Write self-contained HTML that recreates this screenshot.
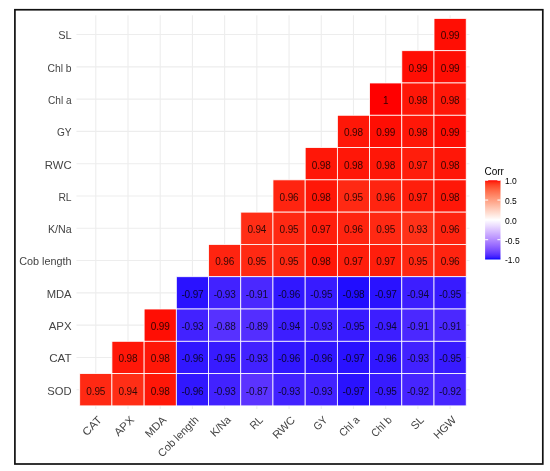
<!DOCTYPE html>
<html><head><meta charset="utf-8"><style>
html,body{margin:0;padding:0;background:#fff;width:550px;height:471px;overflow:hidden}
svg{display:block}
svg text{font-family:"Liberation Sans",sans-serif}
</style></head><body>
<svg width="550" height="471" viewBox="0 0 550 471">
<rect x="0" y="0" width="550" height="471" fill="#fff"/>
<path d="M95.81 15.17V409.11M76.48 34.55H469.44M128.01 15.17V409.11M76.48 66.84H469.44M160.23 15.17V409.11M76.48 99.12H469.44M192.44 15.17V409.11M76.48 131.41H469.44M224.64 15.17V409.11M76.48 163.71H469.44M256.86 15.17V409.11M76.48 196.00H469.44M289.06 15.17V409.11M76.48 228.28H469.44M321.28 15.17V409.11M76.48 260.57H469.44M353.49 15.17V409.11M76.48 292.86H469.44M385.69 15.17V409.11M76.48 325.15H469.44M417.90 15.17V409.11M76.48 357.44H469.44M450.12 15.17V409.11M76.48 389.73H469.44" stroke="#EDEDED" stroke-width="1.1" fill="none"/>
<g stroke="#FFFFFF" stroke-width="0.8"><rect x="434.01" y="18.40" width="32.21" height="32.29" fill="#FF0E04"/><rect x="401.80" y="50.69" width="32.21" height="32.29" fill="#FF0E04"/><rect x="434.01" y="50.69" width="32.21" height="32.29" fill="#FF0E04"/><rect x="369.59" y="82.98" width="32.21" height="32.29" fill="#FF0000"/><rect x="401.80" y="82.98" width="32.21" height="32.29" fill="#FF1708"/><rect x="434.01" y="82.98" width="32.21" height="32.29" fill="#FF1708"/><rect x="337.38" y="115.27" width="32.21" height="32.29" fill="#FF1708"/><rect x="369.59" y="115.27" width="32.21" height="32.29" fill="#FF0E04"/><rect x="401.80" y="115.27" width="32.21" height="32.29" fill="#FF1708"/><rect x="434.01" y="115.27" width="32.21" height="32.29" fill="#FF0E04"/><rect x="305.17" y="147.56" width="32.21" height="32.29" fill="#FF1708"/><rect x="337.38" y="147.56" width="32.21" height="32.29" fill="#FF1708"/><rect x="369.59" y="147.56" width="32.21" height="32.29" fill="#FF1708"/><rect x="401.80" y="147.56" width="32.21" height="32.29" fill="#FF1E0C"/><rect x="434.01" y="147.56" width="32.21" height="32.29" fill="#FF1708"/><rect x="272.96" y="179.85" width="32.21" height="32.29" fill="#FF2410"/><rect x="305.17" y="179.85" width="32.21" height="32.29" fill="#FF1708"/><rect x="337.38" y="179.85" width="32.21" height="32.29" fill="#FF2913"/><rect x="369.59" y="179.85" width="32.21" height="32.29" fill="#FF2410"/><rect x="401.80" y="179.85" width="32.21" height="32.29" fill="#FF1E0C"/><rect x="434.01" y="179.85" width="32.21" height="32.29" fill="#FF1708"/><rect x="240.75" y="212.14" width="32.21" height="32.29" fill="#FF2E16"/><rect x="272.96" y="212.14" width="32.21" height="32.29" fill="#FF2913"/><rect x="305.17" y="212.14" width="32.21" height="32.29" fill="#FF1E0C"/><rect x="337.38" y="212.14" width="32.21" height="32.29" fill="#FF2410"/><rect x="369.59" y="212.14" width="32.21" height="32.29" fill="#FF2913"/><rect x="401.80" y="212.14" width="32.21" height="32.29" fill="#FF3219"/><rect x="434.01" y="212.14" width="32.21" height="32.29" fill="#FF2410"/><rect x="208.54" y="244.43" width="32.21" height="32.29" fill="#FF2410"/><rect x="240.75" y="244.43" width="32.21" height="32.29" fill="#FF2913"/><rect x="272.96" y="244.43" width="32.21" height="32.29" fill="#FF2913"/><rect x="305.17" y="244.43" width="32.21" height="32.29" fill="#FF1708"/><rect x="337.38" y="244.43" width="32.21" height="32.29" fill="#FF1E0C"/><rect x="369.59" y="244.43" width="32.21" height="32.29" fill="#FF1E0C"/><rect x="401.80" y="244.43" width="32.21" height="32.29" fill="#FF2913"/><rect x="434.01" y="244.43" width="32.21" height="32.29" fill="#FF2410"/><rect x="176.33" y="276.72" width="32.21" height="32.29" fill="#2A12FF"/><rect x="208.54" y="276.72" width="32.21" height="32.29" fill="#4222FF"/><rect x="240.75" y="276.72" width="32.21" height="32.29" fill="#4B28FF"/><rect x="272.96" y="276.72" width="32.21" height="32.29" fill="#3117FF"/><rect x="305.17" y="276.72" width="32.21" height="32.29" fill="#381BFF"/><rect x="337.38" y="276.72" width="32.21" height="32.29" fill="#210DFF"/><rect x="369.59" y="276.72" width="32.21" height="32.29" fill="#2A12FF"/><rect x="401.80" y="276.72" width="32.21" height="32.29" fill="#3D1EFF"/><rect x="434.01" y="276.72" width="32.21" height="32.29" fill="#381BFF"/><rect x="144.12" y="309.01" width="32.21" height="32.29" fill="#FF0E04"/><rect x="176.33" y="309.01" width="32.21" height="32.29" fill="#4222FF"/><rect x="208.54" y="309.01" width="32.21" height="32.29" fill="#5731FF"/><rect x="240.75" y="309.01" width="32.21" height="32.29" fill="#542EFF"/><rect x="272.96" y="309.01" width="32.21" height="32.29" fill="#3D1EFF"/><rect x="305.17" y="309.01" width="32.21" height="32.29" fill="#4222FF"/><rect x="337.38" y="309.01" width="32.21" height="32.29" fill="#381BFF"/><rect x="369.59" y="309.01" width="32.21" height="32.29" fill="#3D1EFF"/><rect x="401.80" y="309.01" width="32.21" height="32.29" fill="#4B28FF"/><rect x="434.01" y="309.01" width="32.21" height="32.29" fill="#4B28FF"/><rect x="111.91" y="341.30" width="32.21" height="32.29" fill="#FF1708"/><rect x="144.12" y="341.30" width="32.21" height="32.29" fill="#FF1708"/><rect x="176.33" y="341.30" width="32.21" height="32.29" fill="#3117FF"/><rect x="208.54" y="341.30" width="32.21" height="32.29" fill="#381BFF"/><rect x="240.75" y="341.30" width="32.21" height="32.29" fill="#4222FF"/><rect x="272.96" y="341.30" width="32.21" height="32.29" fill="#3117FF"/><rect x="305.17" y="341.30" width="32.21" height="32.29" fill="#3117FF"/><rect x="337.38" y="341.30" width="32.21" height="32.29" fill="#2A12FF"/><rect x="369.59" y="341.30" width="32.21" height="32.29" fill="#3117FF"/><rect x="401.80" y="341.30" width="32.21" height="32.29" fill="#4222FF"/><rect x="434.01" y="341.30" width="32.21" height="32.29" fill="#381BFF"/><rect x="79.70" y="373.59" width="32.21" height="32.29" fill="#FF2913"/><rect x="111.91" y="373.59" width="32.21" height="32.29" fill="#FF2E16"/><rect x="144.12" y="373.59" width="32.21" height="32.29" fill="#FF1708"/><rect x="176.33" y="373.59" width="32.21" height="32.29" fill="#3117FF"/><rect x="208.54" y="373.59" width="32.21" height="32.29" fill="#4222FF"/><rect x="240.75" y="373.59" width="32.21" height="32.29" fill="#5B33FF"/><rect x="272.96" y="373.59" width="32.21" height="32.29" fill="#4222FF"/><rect x="305.17" y="373.59" width="32.21" height="32.29" fill="#4222FF"/><rect x="337.38" y="373.59" width="32.21" height="32.29" fill="#2A12FF"/><rect x="369.59" y="373.59" width="32.21" height="32.29" fill="#381BFF"/><rect x="401.80" y="373.59" width="32.21" height="32.29" fill="#4725FF"/><rect x="434.01" y="373.59" width="32.21" height="32.29" fill="#4725FF"/></g>
<g  font-size="10" fill="#000" fill-opacity="0.8" letter-spacing="-0.15" text-anchor="middle">
<text x="450.12" y="39.34">0.99</text>
<text x="417.91" y="71.63">0.99</text>
<text x="450.12" y="71.63">0.99</text>
<text x="385.69" y="103.92">1</text>
<text x="417.91" y="103.92">0.98</text>
<text x="450.12" y="103.92">0.98</text>
<text x="353.49" y="136.22">0.98</text>
<text x="385.69" y="136.22">0.99</text>
<text x="417.91" y="136.22">0.98</text>
<text x="450.12" y="136.22">0.99</text>
<text x="321.28" y="168.51">0.98</text>
<text x="353.49" y="168.51">0.98</text>
<text x="385.69" y="168.51">0.98</text>
<text x="417.91" y="168.51">0.97</text>
<text x="450.12" y="168.51">0.98</text>
<text x="289.06" y="200.80">0.96</text>
<text x="321.28" y="200.80">0.98</text>
<text x="353.49" y="200.80">0.95</text>
<text x="385.69" y="200.80">0.96</text>
<text x="417.91" y="200.80">0.97</text>
<text x="450.12" y="200.80">0.98</text>
<text x="256.86" y="233.09">0.94</text>
<text x="289.06" y="233.09">0.95</text>
<text x="321.28" y="233.09">0.97</text>
<text x="353.49" y="233.09">0.96</text>
<text x="385.69" y="233.09">0.95</text>
<text x="417.91" y="233.09">0.93</text>
<text x="450.12" y="233.09">0.96</text>
<text x="224.65" y="265.38">0.96</text>
<text x="256.86" y="265.38">0.95</text>
<text x="289.06" y="265.38">0.95</text>
<text x="321.28" y="265.38">0.98</text>
<text x="353.49" y="265.38">0.97</text>
<text x="385.69" y="265.38">0.97</text>
<text x="417.91" y="265.38">0.95</text>
<text x="450.12" y="265.38">0.96</text>
<text x="192.43" y="297.66">-0.97</text>
<text x="224.65" y="297.66">-0.93</text>
<text x="256.86" y="297.66">-0.91</text>
<text x="289.06" y="297.66">-0.96</text>
<text x="321.28" y="297.66">-0.95</text>
<text x="353.49" y="297.66">-0.98</text>
<text x="385.69" y="297.66">-0.97</text>
<text x="417.91" y="297.66">-0.94</text>
<text x="450.12" y="297.66">-0.95</text>
<text x="160.22" y="329.95">0.99</text>
<text x="192.43" y="329.95">-0.93</text>
<text x="224.65" y="329.95">-0.88</text>
<text x="256.86" y="329.95">-0.89</text>
<text x="289.06" y="329.95">-0.94</text>
<text x="321.28" y="329.95">-0.93</text>
<text x="353.49" y="329.95">-0.95</text>
<text x="385.69" y="329.95">-0.94</text>
<text x="417.91" y="329.95">-0.91</text>
<text x="450.12" y="329.95">-0.91</text>
<text x="128.01" y="362.24">0.98</text>
<text x="160.22" y="362.24">0.98</text>
<text x="192.43" y="362.24">-0.96</text>
<text x="224.65" y="362.24">-0.95</text>
<text x="256.86" y="362.24">-0.93</text>
<text x="289.06" y="362.24">-0.96</text>
<text x="321.28" y="362.24">-0.96</text>
<text x="353.49" y="362.24">-0.97</text>
<text x="385.69" y="362.24">-0.96</text>
<text x="417.91" y="362.24">-0.93</text>
<text x="450.12" y="362.24">-0.95</text>
<text x="95.81" y="394.53">0.95</text>
<text x="128.01" y="394.53">0.94</text>
<text x="160.22" y="394.53">0.98</text>
<text x="192.43" y="394.53">-0.96</text>
<text x="224.65" y="394.53">-0.93</text>
<text x="256.86" y="394.53">-0.87</text>
<text x="289.06" y="394.53">-0.93</text>
<text x="321.28" y="394.53">-0.93</text>
<text x="353.49" y="394.53">-0.97</text>
<text x="385.69" y="394.53">-0.95</text>
<text x="417.91" y="394.53">-0.92</text>
<text x="450.12" y="394.53">-0.92</text>
</g>
<g  font-size="11" fill="#444444">
<text x="71.60" y="39.45" text-anchor="end">SL</text>
<text x="71.60" y="71.74" text-anchor="end" textLength="24.14" lengthAdjust="spacingAndGlyphs">Chl b</text>
<text x="71.60" y="104.03" text-anchor="end" textLength="23.62" lengthAdjust="spacingAndGlyphs">Chl a</text>
<text x="71.60" y="136.31" text-anchor="end" textLength="14.62" lengthAdjust="spacingAndGlyphs">GY</text>
<text x="71.60" y="168.61" text-anchor="end" textLength="26.80" lengthAdjust="spacingAndGlyphs">RWC</text>
<text x="71.60" y="200.90" text-anchor="end" textLength="13.22" lengthAdjust="spacingAndGlyphs">RL</text>
<text x="71.60" y="233.19" text-anchor="end" textLength="23.72" lengthAdjust="spacingAndGlyphs">K/Na</text>
<text x="71.60" y="265.47" text-anchor="end" textLength="52.41" lengthAdjust="spacingAndGlyphs">Cob length</text>
<text x="71.60" y="297.76" text-anchor="end" textLength="24.93" lengthAdjust="spacingAndGlyphs">MDA</text>
<text x="71.60" y="330.05" text-anchor="end" textLength="22.89" lengthAdjust="spacingAndGlyphs">APX</text>
<text x="71.60" y="362.34" text-anchor="end" textLength="22.44" lengthAdjust="spacingAndGlyphs">CAT</text>
<text x="71.60" y="394.63" text-anchor="end" textLength="24.31" lengthAdjust="spacingAndGlyphs">SOD</text>
<text x="102.61" y="420.60" text-anchor="end" transform="rotate(-45 102.61 420.60)" textLength="22.44" lengthAdjust="spacingAndGlyphs">CAT</text>
<text x="134.81" y="420.60" text-anchor="end" transform="rotate(-45 134.81 420.60)" textLength="22.89" lengthAdjust="spacingAndGlyphs">APX</text>
<text x="167.03" y="420.60" text-anchor="end" transform="rotate(-45 167.03 420.60)" textLength="24.93" lengthAdjust="spacingAndGlyphs">MDA</text>
<text x="199.24" y="420.60" text-anchor="end" transform="rotate(-45 199.24 420.60)" textLength="52.41" lengthAdjust="spacingAndGlyphs">Cob length</text>
<text x="231.44" y="420.60" text-anchor="end" transform="rotate(-45 231.44 420.60)" textLength="23.72" lengthAdjust="spacingAndGlyphs">K/Na</text>
<text x="263.66" y="420.60" text-anchor="end" transform="rotate(-45 263.66 420.60)" textLength="13.22" lengthAdjust="spacingAndGlyphs">RL</text>
<text x="295.87" y="420.60" text-anchor="end" transform="rotate(-45 295.87 420.60)" textLength="26.80" lengthAdjust="spacingAndGlyphs">RWC</text>
<text x="328.08" y="420.60" text-anchor="end" transform="rotate(-45 328.08 420.60)" textLength="14.62" lengthAdjust="spacingAndGlyphs">GY</text>
<text x="360.29" y="420.60" text-anchor="end" transform="rotate(-45 360.29 420.60)" textLength="23.62" lengthAdjust="spacingAndGlyphs">Chl a</text>
<text x="392.50" y="420.60" text-anchor="end" transform="rotate(-45 392.50 420.60)" textLength="24.14" lengthAdjust="spacingAndGlyphs">Chl b</text>
<text x="424.70" y="420.60" text-anchor="end" transform="rotate(-45 424.70 420.60)">SL</text>
<text x="456.92" y="420.60" text-anchor="end" transform="rotate(-45 456.92 420.60)">HGW</text>
</g>
<defs><linearGradient id="lg" x1="0" y1="0" x2="0" y2="1"><stop offset="0.0000" stop-color="#FF0000"/><stop offset="0.0250" stop-color="#FF2913"/><stop offset="0.0500" stop-color="#FF3E22"/><stop offset="0.0750" stop-color="#FF4D2E"/><stop offset="0.1000" stop-color="#FF5B3A"/><stop offset="0.1250" stop-color="#FF6846"/><stop offset="0.1500" stop-color="#FF7352"/><stop offset="0.1750" stop-color="#FF7E5E"/><stop offset="0.2000" stop-color="#FF8969"/><stop offset="0.2250" stop-color="#FF9475"/><stop offset="0.2500" stop-color="#FF9E81"/><stop offset="0.2750" stop-color="#FFA88D"/><stop offset="0.3000" stop-color="#FFB299"/><stop offset="0.3250" stop-color="#FFBCA6"/><stop offset="0.3500" stop-color="#FFC6B2"/><stop offset="0.3750" stop-color="#FFCFBF"/><stop offset="0.4000" stop-color="#FFD9CB"/><stop offset="0.4250" stop-color="#FFE2D8"/><stop offset="0.4500" stop-color="#FFECE5"/><stop offset="0.4750" stop-color="#FFF5F2"/><stop offset="0.5000" stop-color="#FFFFFF"/><stop offset="0.5250" stop-color="#F8F3FF"/><stop offset="0.5500" stop-color="#F2E7FF"/><stop offset="0.5750" stop-color="#EBDCFF"/><stop offset="0.6000" stop-color="#E3D0FF"/><stop offset="0.6250" stop-color="#DCC4FF"/><stop offset="0.6500" stop-color="#D4B9FF"/><stop offset="0.6750" stop-color="#CCADFF"/><stop offset="0.7000" stop-color="#C4A2FF"/><stop offset="0.7250" stop-color="#BC97FF"/><stop offset="0.7500" stop-color="#B38BFF"/><stop offset="0.7750" stop-color="#AA80FF"/><stop offset="0.8000" stop-color="#A074FF"/><stop offset="0.8250" stop-color="#9569FF"/><stop offset="0.8500" stop-color="#8A5DFF"/><stop offset="0.8750" stop-color="#7E52FF"/><stop offset="0.9000" stop-color="#7145FF"/><stop offset="0.9250" stop-color="#6239FF"/><stop offset="0.9500" stop-color="#502BFF"/><stop offset="0.9750" stop-color="#381BFF"/><stop offset="1.0000" stop-color="#0000FF"/></linearGradient></defs>
<rect x="485.1" y="180.25" width="15.4" height="79.25" fill="url(#lg)"/>
<path d="M485.1 180.25h3.08M497.42 180.25h3.08M485.1 200.06h3.08M497.42 200.06h3.08M485.1 219.88h3.08M497.42 219.88h3.08M485.1 239.69h3.08M497.42 239.69h3.08" stroke="#fff" stroke-width="1"/>
<g  font-size="8.5" fill="#000">
<text x="505" y="184.15">1.0</text>
<text x="505" y="203.96">0.5</text>
<text x="505" y="223.78">0.0</text>
<text x="505" y="243.59">-0.5</text>
<text x="505" y="263.40">-1.0</text>
</g>
<text x="484.5" y="174.5"  font-size="10" fill="#000">Corr</text>
<rect x="14.9" y="9.75" width="527.9" height="454.25" fill="none" stroke="#111" stroke-width="1.7"/>
</svg>
</body></html>
